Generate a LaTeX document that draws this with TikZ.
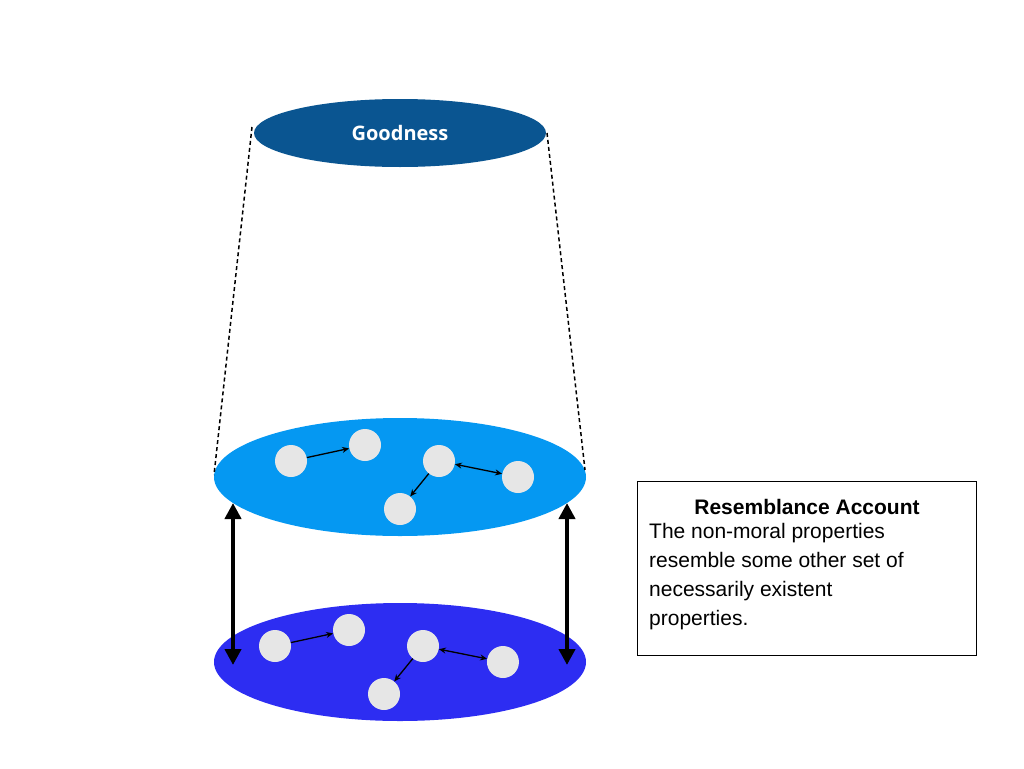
\documentclass[tikz,border=0pt]{standalone}
\usepackage{fontspec}
\setmainfont{Liberation Sans}
\newfontfamily\gfont{Open Sans}
\usetikzlibrary{arrows.meta}
\definecolor{gdark}{HTML}{0A5591}
\definecolor{lmid}{HTML}{0598F2}
\definecolor{lbot}{HTML}{2D2DF2}
\definecolor{dot}{HTML}{E6E6E6}
\tikzset{
 dotn/.style={circle,fill=dot,minimum size=32pt,inner sep=0pt},
 sarr/.style={-{Stealth[length=7pt,width=6pt]},line width=1.3pt},
 darr/.style={{Stealth[length=7pt,width=6pt]}-{Stealth[length=7pt,width=6pt]},line width=1.3pt},
 big/.style={{Triangle[length=16pt,width=16pt]}-{Triangle[length=16pt,width=16pt]},line width=4pt},
 ell/.style={ellipse,minimum width=#1,inner sep=0pt},
}
\usetikzlibrary{shapes.geometric}
\begin{document}
\begin{tikzpicture}[x=1pt,y=-1pt]
\useasboundingbox (0,0) rectangle (1024,768);
\node[ellipse,fill=gdark,minimum width=292pt,minimum height=68pt,inner sep=0pt] (good) at (400,133) {\gfont\bfseries\fontsize{20pt}{24pt}\selectfont\textcolor{white}{Goodness}};
\node[ellipse,fill=lmid,minimum width=372pt,minimum height=118pt] (mid) at (400,477) {};
\node[ellipse,fill=lbot,minimum width=372pt,minimum height=118pt] (bot) at (400,662) {};
\coordinate (d1) at (252,127); \coordinate (d2) at (214,475);
\coordinate (d3) at (547,133); \coordinate (d4) at (585,470);
\draw[dashed,line width=1.5pt,dash pattern=on 4pt off 3pt] (d1) -- (d2);
\draw[dashed,line width=1.5pt,dash pattern=on 4pt off 3pt] (d3) -- (d4);
\coordinate (a1) at (233,503); \coordinate (a2) at (233,665);
\coordinate (b1) at (567,503); \coordinate (b2) at (567,665);
\draw[big] (a1) -- (a2);
\draw[big] (b1) -- (b2);
\foreach \p/\dx/\dy in {m/0/0,n/-16/185}{
 \node[dotn] (\p1) at (291+\dx,461+\dy) {};
 \node[dotn] (\p2) at (365+\dx,445+\dy) {};
 \node[dotn] (\p3) at (439+\dx,461+\dy) {};
 \node[dotn] (\p4) at (518+\dx-\dx*0.06,477+\dy) {};
 \node[dotn] (\p5) at (400+\dx,509+\dy) {};
 \draw[sarr] (\p1) -- (\p2);
 \draw[darr] (\p3) -- (\p4);
 \draw[sarr] (\p3) -- (\p5);
}
\node[draw,line width=0.6pt,minimum width=339pt,minimum height=174pt,anchor=north west,inner sep=0pt] (box) at (637,481) {};
\node[font=\bfseries\fontsize{21pt}{25pt}\selectfont] (title) at (807,507) {Resemblance Account};
\node[anchor=north west,align=left,font=\fontsize{21pt}{29pt}\selectfont,inner sep=0pt] (txt) at (649,523) {The non-moral properties\\resemble some other set of\\necessarily existent\\properties.};
\end{tikzpicture}
\end{document}
